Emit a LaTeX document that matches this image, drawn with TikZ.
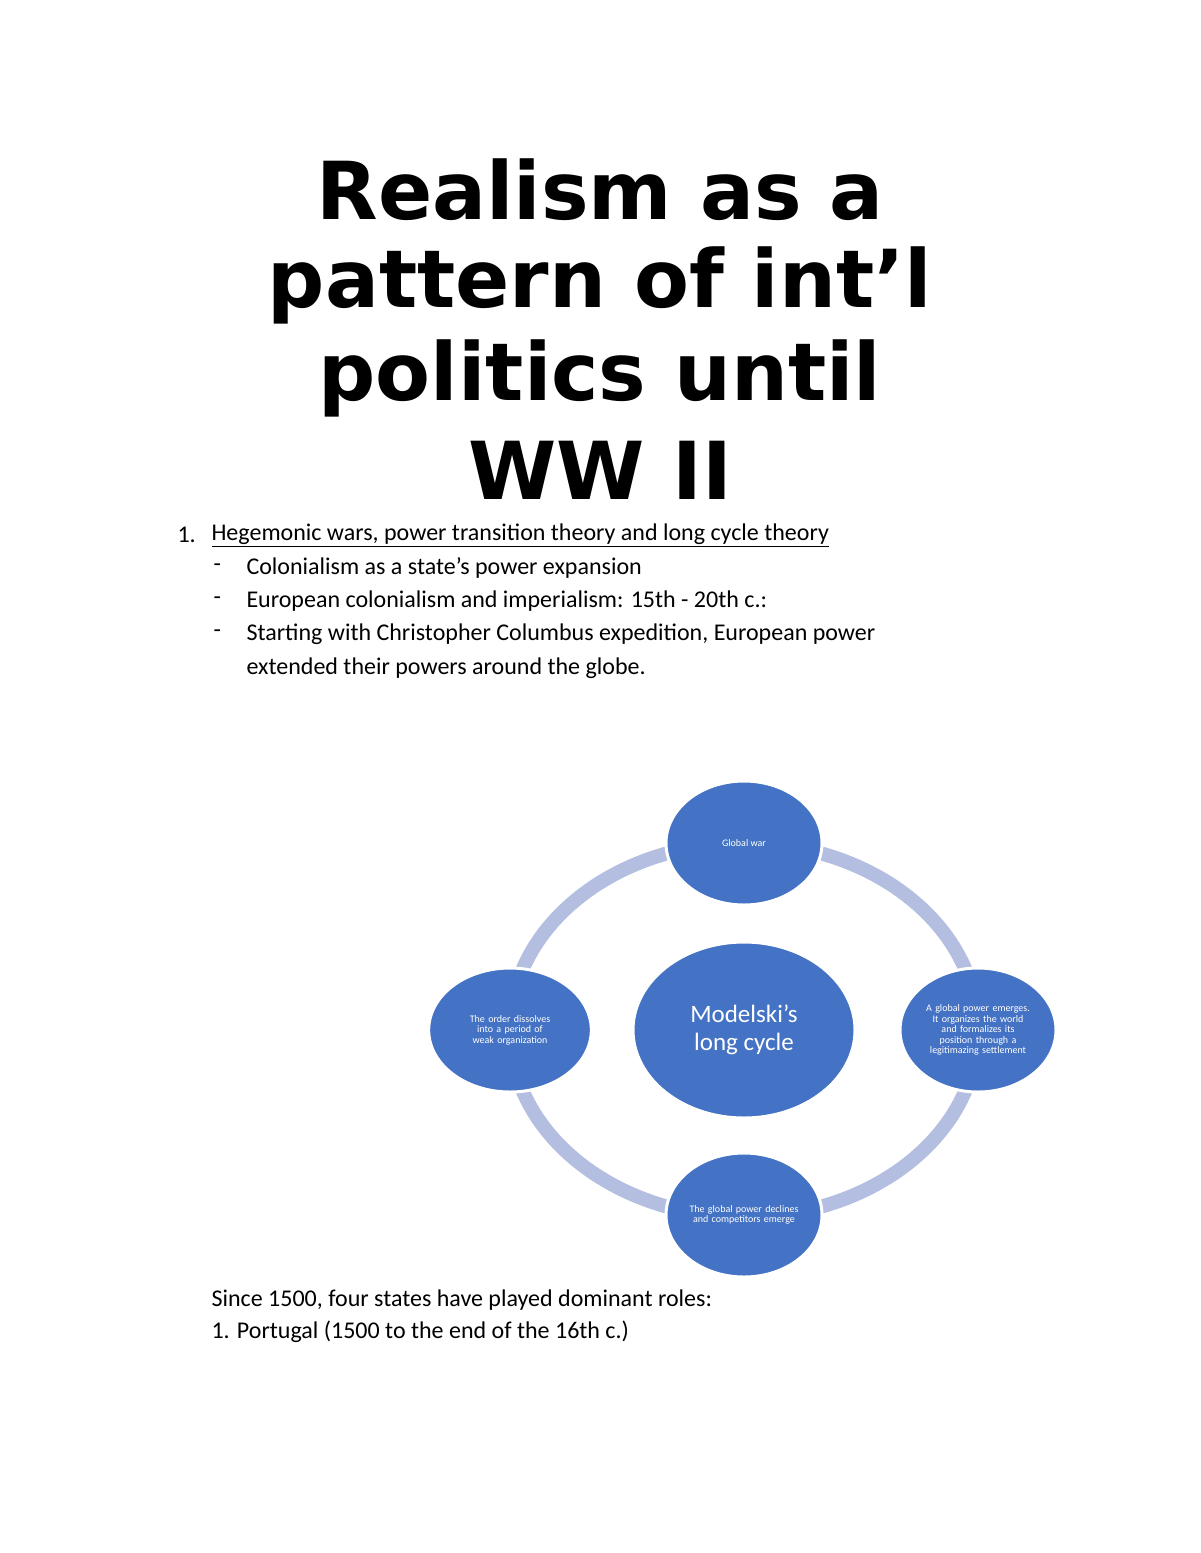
\documentclass[tikz,border=0pt]{standalone}
\usepackage{fontspec}
\setmainfont{Carlito}
\newfontfamily\titlefont{DejaVu Sans}
\definecolor{nodeblue}{HTML}{4472C4}
\definecolor{ringblue}{HTML}{B4BEE0}
\begin{document}
\begin{tikzpicture}[x=1pt,y=-1pt,
  title/.style={font=\titlefont\bfseries\fontsize{80}{90}\selectfont, anchor=center},
  body/.style={font=\fontsize{24}{30}\selectfont, anchor=west},
  cyc/.style={ellipse, fill=nodeblue, draw=white, line width=3pt, text=white, align=center, inner sep=0pt},
  small/.style={font=\fontsize{10}{10.5}\selectfont}]
\usetikzlibrary{shapes.geometric}
\useasboundingbox (0,0) rectangle (1200,1553);
\node[title] (t1) at (600,190) {Realism as a};
\node[title] (t2) at (600,285) {pattern of int’l};
\node[title] (t3) at (600,378) {politics until};
\node[title] (t4) at (600,470) {WW II};
\node[body] (n1) at (174,535) {1.};
\node[body] (h1) at (208,535) {\underline{Hegemonic wars, power transition theory and long cycle theory}};
\node[body] (d1) at (210,568) {-};
\node[body] (b1) at (243,568) {Colonialism as a state’s power expansion};
\node[body] (d2) at (210,601) {-};
\node[body] (b2) at (243,601) {European colonialism and imperialism: 15th - 20th c.:};
\node[body] (d3) at (210,634) {-};
\node[body] (b3) at (243,634) {Starting with Christopher Columbus expedition, European power};
\node[body] (b4) at (243,668) {extended their powers around the globe.};
\draw[ringblue, line width=14pt] (744,1030) ellipse [x radius=234, y radius=187];
\node[cyc, minimum width=222, minimum height=176, font=\fontsize{25}{28}\selectfont] (c) at (744,1030) {Modelski's\\long cycle};
\node[cyc, minimum width=156, minimum height=124, small] (top) at (744,843) {Global war};
\node[cyc, minimum width=156, minimum height=124, small, text width=105] (rt) at (978,1030) {A global power emerges. It organizes the world and formalizes its position through a legitimazing settlement};
\node[cyc, minimum width=156, minimum height=124, small, text width=110] (bt) at (744,1215) {The global power declines and competitors emerge};
\node[cyc, minimum width=156, minimum height=124, small, text width=115] (lt) at (510,1030) {The order dissolves into a period of weak organization};
\node[body] (s1) at (208,1300) {Since 1500, four states have played dominant roles:};
\node[body] (s2) at (208,1332) {1. Portugal (1500 to the end of the 16th c.)};
\end{tikzpicture}
\end{document}
